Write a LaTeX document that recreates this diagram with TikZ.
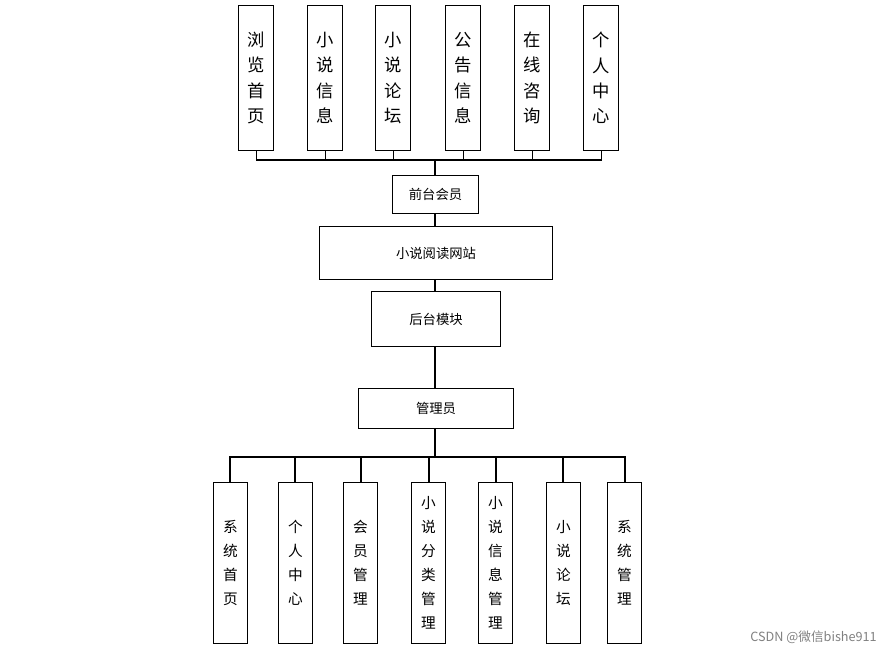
\documentclass[tikz,border=0pt]{standalone}
\usepackage{fontspec}
\setmainfont{Noto Sans CJK SC}
\begin{document}
\begin{tikzpicture}[x=0.75pt,y=-0.75pt,
  box/.style={draw,line width=0.8pt,inner sep=0pt,anchor=north west,font=\fontsize{10}{12}\selectfont},
  vbox/.style={draw,line width=0.8pt,inner sep=0pt,anchor=north west,align=center,font=\fontsize{13}{19}\selectfont},
  ln/.style={line width=0.8pt}]
\useasboundingbox (0,0) rectangle (880,653);
% top
\foreach \n/\x/\t in {t1/238/浏\\览\\首\\页, t2/307/小\\说\\信\\息, t3/375/小\\说\\论\\坛, t4/445/公\\告\\信\\息, t5/514/在\\线\\咨\\询, t6/583/个\\人\\中\\心}
  \node[vbox,minimum width=35*0.75pt,minimum height=145*0.75pt] (\n) at (\x,5) {\t};
\node[box,minimum width=86*0.75pt,minimum height=38*0.75pt] (fq) at (392,175) {前台会员};
\node[box,minimum width=233*0.75pt,minimum height=53*0.75pt] (web) at (319,226) {小说阅读网站};
\node[box,minimum width=129*0.75pt,minimum height=55*0.75pt] (ht) at (371,291) {后台模块};
\node[box,minimum width=155*0.75pt,minimum height=40*0.75pt] (gl) at (358,388) {管理员};
\foreach \n/\x/\t in {b1/213/系\\统\\首\\页, b2/278/个\\人\\中\\心, b3/343/会\\员\\管\\理, b4/411/小\\说\\分\\类\\管\\理, b5/478/小\\说\\信\\息\\管\\理, b6/546/小\\说\\论\\坛, b7/607/系\\统\\管\\理}
  \node[vbox,font=\fontsize{11}{18}\selectfont,minimum width=34*0.75pt,minimum height=161*0.75pt] (\n) at (\x,482) {\t};
\coordinate (tbus) at (435,160);
\coordinate (bbus) at (435,457);
\draw[ln] (t1.south) |- (t6.south |- tbus) -- (t6.south);
\foreach \n in {t2,t3,t4,t5} \draw[ln] (\n.south) -- (\n.south |- tbus);
\draw[ln] (tbus) -- (fq.north -| tbus);
\draw[ln] (fq.south -| tbus) -- (web.north -| tbus);
\draw[ln] (web.south -| tbus) -- (ht.north -| tbus);
\draw[ln] (ht.south -| tbus) -- (gl.north -| tbus);
\draw[ln] (gl.south -| tbus) -- (bbus);
\draw[ln] (b1.north -| 230,0) |- (625,457) -- (b7.north -| 625,0);
\foreach \n/\x in {b2/295,b3/361,b4/429,b5/496,b6/563} \draw[ln] (\x,457) -- (\n.north -| \x,0);
\node[anchor=east,text=gray,font=\fontsize{9.5}{11}\selectfont,inner sep=0pt] (wm) at (877,637) {CSDN @微信bishe911};
\end{tikzpicture}
\end{document}
